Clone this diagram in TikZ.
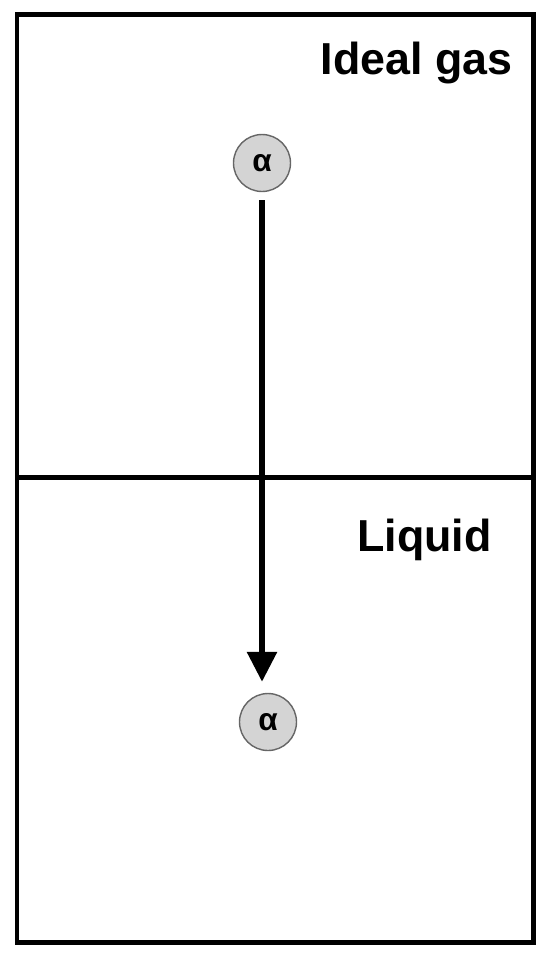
\documentclass[tikz,border=0pt]{standalone}
\usepackage{fontspec}
\setsansfont{Liberation Sans}
\usepackage{tikz}
\usetikzlibrary{arrows.meta}

\begin{document}
\begin{tikzpicture}[x=0.02cm, y=-0.02cm]
\useasboundingbox (0, 0) rectangle (550, 961);

\draw[line width=0.1cm] (17, 14.5) rectangle (533, 942);
\draw[line width=0.1cm] (17, 477) -- (533, 477);

\node[anchor=base east, inner sep=0pt, font=\sffamily\bfseries\fontsize{25.5}{28}\selectfont] (gaslabel) at (513, 74) {Ideal gas};
\node[anchor=base east, inner sep=0pt, font=\sffamily\bfseries\fontsize{25.5}{28}\selectfont] (liqlabel) at (492, 551) {Liquid};

\node[circle, draw=black!60, line width=0.8pt, fill=black!17, minimum size=1.14cm, inner sep=0pt, font=\sffamily\bfseries\fontsize{18}{18}\selectfont] (agas) at (262, 163) {α};
\node[circle, draw=black!60, line width=0.8pt, fill=black!17, minimum size=1.14cm, inner sep=0pt, font=\sffamily\bfseries\fontsize{18}{18}\selectfont] (aliq) at (268, 722) {α};

\draw[-{Triangle[length=0.6cm, width=0.58cm]}, line width=0.12cm, shorten <=0.16cm, shorten >=0.22cm] (agas.south) -- (aliq.north -| agas.south);
\end{tikzpicture}
\end{document}
